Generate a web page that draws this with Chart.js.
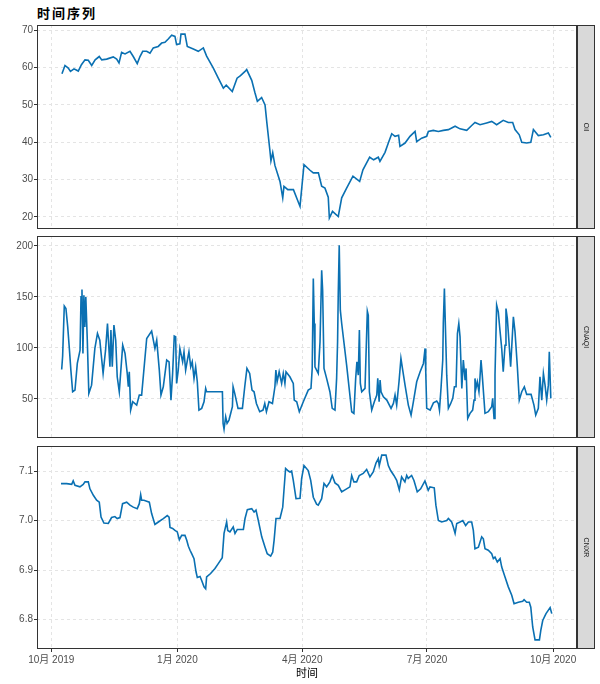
<!DOCTYPE html>
<html lang="zh-CN">
<head>
<meta charset="UTF-8">
<title>时间序列</title>
<style>
    body {
        margin: 0;
        background: #fff;
        width: 600px;
        height: 684px;
        position: relative;
        overflow: hidden;
        font-family: "Liberation Sans", Arial, "Noto Sans CJK SC", sans-serif;
    }
    #title {
        position: absolute;
        left: 37px;
        top: 3px;
        font-size: 13px;
        font-weight: bold;
        letter-spacing: 2px;
        color: #000;
        font-family: "Noto Sans CJK SC", sans-serif;
    }
    .panel { position: absolute; left: 0; width: 600px; }
    #p1 { top: 15px; height: 224px; }
    #p2 { top: 226px; height: 222px; }
    #p3 { top: 436px; height: 248px; }
</style>
</head>
<body>

<div id="title">时间序列</div>
<div class="panel" id="p1"><canvas id="oilChart"></canvas></div>
<div class="panel" id="p2"><canvas id="aqiChart"></canvas></div>
<div class="panel" id="p3"><canvas id="cnxrChart"></canvas></div>

<script src="https://cdn.jsdelivr.net/npm/chart.js"></script>
<script>
    // eixo x: dias desde 2019-10-01
    const tickDates = ['2019-10-01', '2020-01-01', '2020-04-01', '2020-07-01', '2020-10-01'];
    const tickLabels = ['10月 2019', '1月 2020', '4月 2020', '7月 2020', '10月 2020'];

    // marcas do eixo y de cada painel
    const oilTicks = [20, 30, 40, 50, 60, 70];
    const aqiTicks = [50, 100, 150, 200];
    const cnxrTicks = [6.8, 6.9, 7.0, 7.1];

    const oilDays = [7.8, 10, 12.4, 14, 16.6, 19.7, 22, 24.6, 27, 29.5, 32, 35, 36.8, 40.4, 45.2, 47.7, 49.4, 51.3, 53.8, 57.4,
        59.8, 62.7, 64.7, 66.7, 69.6, 72, 74.4, 78, 80.5, 82.9, 85.3, 87.8, 90.2, 91.4, 93.8, 94.6, 97.5, 99.2, 103.6, 107.2,
        110.9, 113.3, 118.2, 121.8, 125.5, 127.6, 132, 135.5, 138, 141.3, 142.5, 146.2, 148.6, 150.3, 153.4, 155.9, 157.3, 159.5, 160.2, 161.5,
        163.1, 166.8, 168.8, 169.7, 172.5, 176.6, 181.4, 184.3, 188.7, 191.1, 194.8, 197.2, 199.6, 202, 202.8, 205.1, 209.3, 211.8, 215.4, 220,
        224.9, 227.3, 232.2, 235.1, 238.5, 239.7, 243.4, 245.8, 248.3, 250.7, 253.3, 254.3, 258, 261.6, 265.3, 266.5, 270.1, 273.8, 275, 278.6,
        282.3, 285.9, 289.6, 294.5, 298.1, 303, 306.6, 309, 312.7, 317.5, 321.2, 324.8, 329.6, 333.3, 336.5, 338.2, 341.3, 343.1, 346.7, 349.7,
        351.6, 355.2, 358.9, 362.5, 364.3];
    const oilValues = [58.4, 60.6, 59.9, 59.0, 59.7, 59.1, 60.8, 62.1, 62.0, 60.6, 62.1, 63.0, 62.1, 62.3, 62.9, 62.3, 61.3, 64.1, 63.7, 64.4,
        63.0, 61.1, 63.0, 64.4, 64.4, 63.9, 65.3, 65.7, 66.6, 66.8, 67.7, 68.7, 68.4, 66.2, 66.4, 69.0, 69.0, 65.7, 65.0, 64.4,
        65.3, 63.1, 59.9, 57.2, 54.5, 55.3, 53.6, 57.2, 57.9, 59.0, 59.5, 56.6, 53.2, 51.0, 52.0, 50.0, 45.0, 37.6, 35.0, 37.2,
        33.8, 29.5, 25.1, 28.2, 27.3, 27.3, 22.8, 34.0, 32.5, 31.8, 31.8, 28.2, 27.7, 25.3, 19.7, 21.5, 20.1, 25.1, 27.7, 30.9,
        29.5, 32.6, 36.0, 35.3, 36.0, 34.9, 37.3, 39.8, 42.3, 41.6, 41.9, 38.9, 39.8, 41.6, 42.9, 40.2, 41.1, 41.6, 42.9, 43.2,
        42.9, 43.2, 43.4, 44.3, 43.6, 43.2, 44.5, 45.3, 44.7, 45.2, 45.6, 44.7, 45.9, 45.3, 45.3, 43.4, 42.0, 40.0, 39.8, 40.0,
        43.4, 41.8, 42.0, 42.5, 41.3];

    const aqiDays = [7.6, 8.3, 9.5, 10.7, 12, 13.1, 14.3, 15.6, 17.3, 19, 21, 21.7, 22.4, 23.1, 23.8, 24.5, 25.2, 26.2, 27.4, 29.4,
        31.8, 33.7, 35.4, 37.8, 39.6, 41, 42.8, 43.5, 44.5, 45.7, 47, 48.1, 49.6, 52.1, 53.8, 55.4, 56.2, 56.9, 57.9, 59.4,
        62.3, 64.2, 65.9, 69.6, 73.2, 75.6, 76.9, 78.8, 80, 81.7, 84.2, 85.9, 87.3, 88.5, 89.7, 90.7, 91.4, 92.6, 93.8, 95.8,
        96.8, 98, 99.5, 100.4, 101.7, 102.8, 104.1, 105.3, 106.5, 107.7, 109.7, 111.4, 112.6, 113.3, 124.8, 125.3, 126, 127.2, 128.2, 129.6,
        132.1, 132.6, 133.8, 136.2, 139.4, 141.1, 142.7, 144.7, 146.4, 147.9, 149.6, 152, 154.4, 155.7, 156.9, 158.8, 161.3, 163.1, 163.8, 164.7,
        166.2, 168, 169.2, 170.4, 171.2, 174, 176.5, 177.2, 179, 180.9, 183.8, 187.4, 189.4, 190.3, 191.1, 191.8, 192.3, 194.7, 196, 197.2,
        197.9, 198.9, 200.8, 203.2, 204.9, 206.9, 208.1, 208.8, 209.3, 210, 210.8, 211.8, 215.4, 219.1, 220.7, 222, 222.9, 223.9, 224.7, 225.4,
        226.4, 228.8, 230.5, 231.2, 232, 233.7, 235.6, 237.4, 238.1, 239.1, 239.8, 240.5, 242.2, 244.7, 247.8, 249.5, 250.7, 251.9, 253.6, 255,
        256.3, 258, 260.4, 262.4, 264.1, 266.5, 269, 271.4, 272.6, 273.1, 273.8, 276.3, 278.7, 281.1, 282.3, 283.1, 284.3, 285.5, 285.9, 286.7,
        287.4, 288.4, 289.6, 291.3, 292.8, 294, 295.2, 296.2, 297.2, 298.1, 299.4, 300.5, 301.8, 302.5, 303.7, 305.4, 307.3, 308.3, 309, 309.7,
        310.7, 311.9, 312.6, 313.4, 314.3, 316.3, 318.7, 321.2, 321.9, 322.9, 323.6, 324.8, 326, 327.2, 328.5, 329.6, 330.9, 331.6, 332.6, 333.8,
        335, 336, 337, 338.2, 339.9, 341.3, 343.1, 345, 346.7, 349.9, 352, 353.3, 355.2, 356.4, 357.7, 358.9, 360.1, 361.3, 362.5, 363.2,
        364.3];
    const aqiValues = [78.8, 92, 141, 138.6, 120.6, 101, 78.1, 56.9, 58.5, 84.7, 97.7, 150, 157.3, 94.5, 151.7, 120.6, 150, 110.8, 55.3, 63.4,
        99.4, 114.1, 107.5, 74.9, 97.7, 123.9, 81.4, 117.4, 81.4, 122.3, 107.5, 71.6, 56.9, 102.6, 94.5, 74.9, 61.8, 76.5, 38.9, 47.1,
        43.8, 53.6, 53.6, 109.2, 116.4, 99.4, 107.5, 78.1, 53.6, 61.8, 88, 86.3, 48.7, 74.9, 111.5, 110.8, 65, 78.1, 99.4, 86.3,
        96.1, 78.1, 89.6, 96.1, 81.4, 86.3, 70, 81.4, 66.7, 38.9, 40.6, 47.1, 60.2, 56.9, 56.9, 25.9, 20.3, 32.4, 25.9, 29.1,
        42.2, 61.8, 55.3, 40.6, 40.6, 61.8, 79.8, 74.9, 58.5, 56.9, 45.4, 37.3, 38.9, 45.4, 37.3, 47.1, 45.4, 61.8, 78.1, 66.7,
        76.5, 65, 74.9, 65, 76.5, 71.6, 65, 48.7, 47.1, 37.3, 47.1, 58.5, 60.2, 79.8, 168, 123.9, 81.4, 74.9, 105.9, 176.2,
        156.6, 79.8, 70, 56.9, 40.6, 38.9, 70, 105.9, 153.3, 200.7, 137, 123.9, 83, 37.3, 35.7, 70, 86.3, 73.2, 117.4, 65,
        56.9, 60.2, 136, 132, 56.9, 38.9, 47.1, 53.6, 70, 47.1, 68.3, 56.9, 52, 48.7, 40.6, 45.4, 53.6, 43.8, 66.7, 89.6,
        78.1, 63.4, 43.8, 34, 47.1, 66.7, 76.5, 84.7, 99.4, 76.5, 40.6, 38.9, 46, 47.8, 45.4, 38.9, 61.8, 88, 123.9, 158.2,
        122.3, 73.2, 40.6, 45.4, 50.4, 61.8, 61.8, 114.1, 123.9, 110.8, 60.2, 88, 68.3, 79.8, 30.8, 35.7, 38.9, 48.7, 70, 60.2,
        66.7, 56.9, 70, 88, 73.2, 35.7, 37.3, 42.2, 50.4, 30.8, 73.2, 141.9, 135.3, 117.4, 99.4, 76.5, 102.6, 138.6, 128.8, 105.9,
        81.4, 105.9, 130.4, 115.7, 81.4, 48.7, 56.9, 61.8, 54.3, 54.3, 43.8, 34, 40.6, 71.6, 48.7, 74.9, 63.4, 48.7, 63.4, 96.1,
        50.4];

    const cnxrDays = [7.1, 11.2, 14.9, 16, 17.3, 20.9, 23.3, 24.6, 27, 28.2, 30.7, 33.1, 35, 36.3, 38.4, 41.6, 44, 46.4, 48.1, 50.1,
        52, 55, 57.4, 59.8, 62.7, 64.2, 65.2, 65.9, 67.6, 69.6, 71.5, 73.2, 75.6, 78.1, 81.7, 84.6, 85.9, 86.6, 88.5, 90.2,
        91.9, 93.4, 95.1, 97.5, 98.8, 100, 101.2, 102.4, 104.1, 105.6, 106.5, 108.5, 109.7, 111.4, 112.6, 113.3, 116.2, 119.4, 121.8, 124.7,
        126, 127.9, 128.7, 130.3, 132.7, 134, 135.7, 140.1, 141.3, 143, 146.2, 147.9, 149.3, 151, 153.5, 155.9, 157.5, 160, 161.5, 162.5,
        163.9, 166.8, 168.8, 169.7, 170.9, 172.9, 174.1, 175.3, 176.5, 178.5, 181.4, 182.6, 184.3, 187.4, 189.2, 191.1, 193.5, 194.7, 197.2, 198.9,
        200.8, 203.2, 204.9, 206.9, 209.3, 211.8, 214.2, 217.8, 219.1, 220.7, 222.7, 224.6, 227.5, 230, 232.4, 234.8, 236.8, 238.5, 239.2, 241,
        244.1, 245.8, 247.5, 249.9, 251.9, 253.8, 255.5, 257.9, 259.2, 260.3, 262.8, 264.5, 266.9, 269.4, 272.5, 274.9, 276.2, 279.3, 280.5, 282.3,
        284.7, 288.4, 289.6, 292, 293.2, 294.5, 295.7, 298.1, 300.1, 302.2, 304.2, 306.6, 307.8, 309, 311.5, 313.9, 315.1, 316.3, 318.7, 321.2,
        322.4, 323.6, 325.3, 327.3, 328.5, 330.9, 333.3, 335.8, 337.5, 340.6, 343.8, 344.8, 346.7, 348.6, 349.7, 351.1, 352.8, 356, 357, 358.4,
        360.8, 363.8, 365];
    const cnxrValues = [7.0745, 7.0745, 7.073, 7.080, 7.071, 7.068, 7.073, 7.078, 7.078, 7.064, 7.051, 7.041, 7.037, 7.007, 6.995, 6.994, 7.006, 7.008, 7.004, 7.006,
        7.034, 7.037, 7.031, 7.027, 7.024, 7.034, 7.052, 7.041, 7.041, 7.039, 7.037, 7.014, 6.992, 6.997, 7.004, 7.010, 7.007, 6.986, 6.984, 6.980,
        6.977, 6.961, 6.970, 6.970, 6.960, 6.948, 6.940, 6.933, 6.923, 6.896, 6.885, 6.887, 6.879, 6.866, 6.862, 6.886, 6.893, 6.903, 6.913, 6.925,
        6.974, 6.997, 6.980, 6.977, 6.987, 6.974, 6.982, 6.982, 7.004, 7.022, 7.024, 7.017, 7.021, 7.000, 6.967, 6.946, 6.933, 6.928, 6.936, 6.960,
        7.004, 7.004, 7.027, 7.061, 7.105, 7.100, 7.098, 7.100, 7.081, 7.044, 7.045, 7.085, 7.111, 7.101, 7.081, 7.047, 7.033, 7.031, 7.044, 7.075,
        7.068, 7.078, 7.091, 7.076, 7.071, 7.058, 7.062, 7.068, 7.091, 7.078, 7.078, 7.091, 7.095, 7.103, 7.088, 7.098, 7.116, 7.125, 7.111, 7.132,
        7.132, 7.111, 7.101, 7.091, 7.081, 7.062, 7.088, 7.078, 7.091, 7.085, 7.091, 7.081, 7.058, 7.064, 7.080, 7.061, 7.068, 7.066, 7.031, 7.000,
        6.997, 7.000, 7.004, 6.997, 6.987, 6.974, 6.994, 6.997, 7.000, 6.990, 6.997, 6.997, 6.980, 6.943, 6.946, 6.967, 6.963, 6.943, 6.940, 6.933,
        6.923, 6.926, 6.916, 6.923, 6.906, 6.886, 6.866, 6.849, 6.832, 6.835, 6.837, 6.840, 6.835, 6.835, 6.825, 6.785, 6.759, 6.759, 6.778, 6.798,
        6.812, 6.824, 6.812];

    const FONT = '"Liberation Sans", Arial, "Noto Sans CJK SC", sans-serif';
    const LINE_COLOR = '#0a70b2';
    const dayZero = Date.UTC(2019, 9, 1);
    const tickDays = tickDates.map(d => {
        const [y, m, dd] = d.split('-').map(Number);
        return Math.round((Date.UTC(y, m - 1, dd) - dayZero) / 86400000);
    });

    // moldura do painel + faixa cinza à direita
    const painelPlugin = {
        id: 'painel',
        afterDraw(chart, args, opts) {
            const { ctx, chartArea: a } = chart;
            const h = a.bottom - a.top;
            ctx.save();
            ctx.strokeStyle = '#333';
            ctx.lineWidth = 1;
            ctx.strokeRect(a.left + 0.5, a.top + 0.5, a.right - a.left - 1, h - 1);
            ctx.fillStyle = '#d9d9d9';
            ctx.fillRect(a.right, a.top, 18, h);
            ctx.strokeRect(a.right + 0.5, a.top + 0.5, 17, h - 1);
            ctx.translate(a.right + 9, a.top + h / 2);
            ctx.rotate(Math.PI / 2);
            ctx.fillStyle = '#1a1a1a';
            ctx.font = '7px ' + FONT;
            ctx.textAlign = 'center';
            ctx.textBaseline = 'middle';
            ctx.fillText(opts.label, 0, 0);
            ctx.restore();
        }
    };

    function criarPainel(id, days, values, cfg) {
        const ctx = document.getElementById(id).getContext('2d');
        return new Chart(ctx, {
            type: 'line',
            data: {
                datasets: [{
                    data: days.map((d, i) => ({ x: d, y: values[i] })),
                    borderColor: LINE_COLOR,
                    borderWidth: 1.6,
                    pointRadius: 0,
                    tension: 0,
                    fill: false
                }]
            },
            plugins: [painelPlugin],
            options: {
                responsive: true,
                maintainAspectRatio: false,
                animation: false,
                layout: { padding: { left: 0, right: 23, top: 10, bottom: cfg.showX ? 0 : 10 } },
                plugins: {
                    legend: { display: false },
                    tooltip: { enabled: false },
                    painel: { label: cfg.label }
                },
                scales: {
                    x: {
                        type: 'linear',
                        min: -10.4,
                        max: 383.4,
                        afterBuildTicks: s => { s.ticks = tickDays.map(v => ({ value: v })); },
                        afterFit: s => { s.height = cfg.showX ? 35 : 0; },
                        ticks: {
                            display: cfg.showX,
                            autoSkip: false,
                            maxRotation: 0,
                            padding: 2,
                            color: '#4d4d4d',
                            font: { size: 10, family: FONT },
                            callback: v => tickLabels[tickDays.indexOf(v)]
                        },
                        grid: {
                            color: '#e4e4e4',
                            drawTicks: cfg.showX,
                            tickLength: 3,
                            tickColor: '#333',
                            tickWidth: 1,
                            tickBorderDash: []
                        },
                        border: { display: false, dash: [3, 3] },
                        title: {
                            display: cfg.showX,
                            text: '时间',
                            color: '#000',
                            font: { size: 11, family: FONT },
                            padding: { top: 0, bottom: 3 }
                        }
                    },
                    y: {
                        min: cfg.min,
                        max: cfg.max,
                        afterFit: s => { s.width = 37; },
                        afterBuildTicks: s => { s.ticks = cfg.ticks.map(v => ({ value: v })); },
                        ticks: {
                            autoSkip: false,
                            padding: 1,
                            color: '#4d4d4d',
                            font: { size: 10, family: FONT },
                            callback: v => v.toFixed(cfg.decimals)
                        },
                        grid: {
                            color: '#e4e4e4',
                            tickLength: 3,
                            tickColor: '#333',
                            tickWidth: 1,
                            tickBorderDash: []
                        },
                        border: { display: false, dash: [3, 3] }
                    }
                }
            }
        });
    }

    criarPainel('oilChart', oilDays, oilValues, { label: 'Oil', min: 16.75, max: 71.45, ticks: oilTicks, decimals: 0, showX: false });
    criarPainel('aqiChart', aqiDays, aqiValues, { label: 'CNAQI', min: 11.5, max: 209.8, ticks: aqiTicks, decimals: 0, showX: false });
    criarPainel('cnxrChart', cnxrDays, cnxrValues, { label: 'CNXR', min: 6.7405, max: 7.1505, ticks: cnxrTicks, decimals: 1, showX: true });
</script>

</body>
</html>
